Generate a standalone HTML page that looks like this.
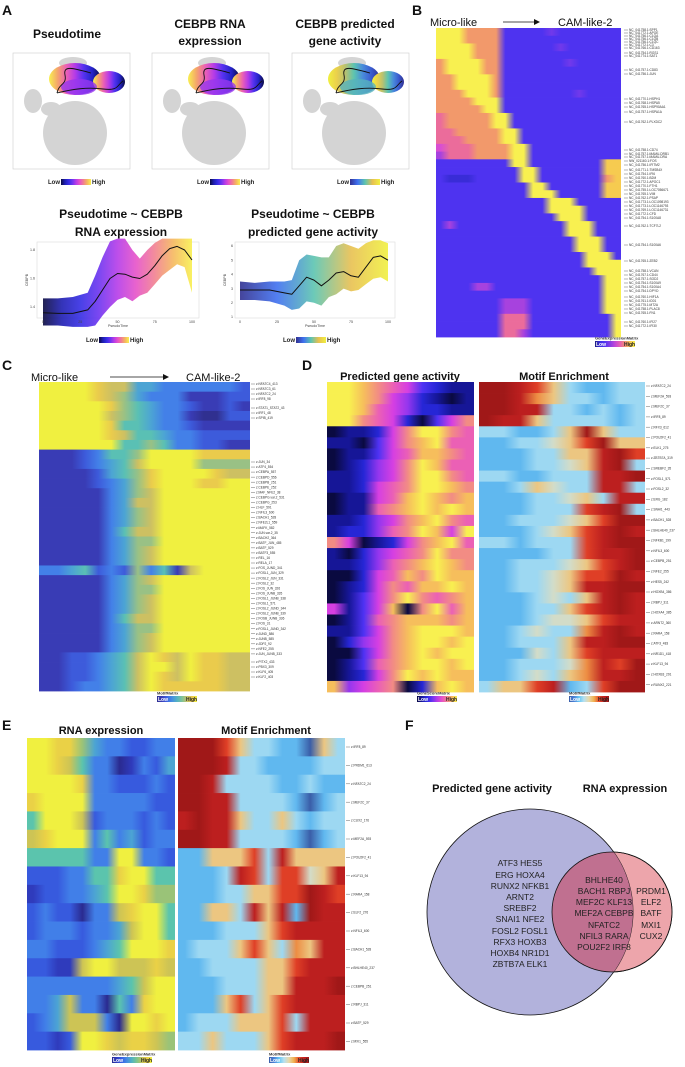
<!DOCTYPE html>
<html><head><meta charset="utf-8">
<style>
html,body{margin:0;padding:0;background:#fff;}
svg{display:block;font-family:"Liberation Sans",sans-serif;}
.t{font-weight:bold;fill:#111;}
.lab{font-size:3.2px;fill:#333;}
</style></head>
<body>
<svg id="fig" width="685" height="1067" viewBox="0 0 685 1067" xmlns="http://www.w3.org/2000/svg">
<defs id="g_defs"></defs>
<rect width="685" height="1067" fill="#fff"/>
<text x="2" y="15" font-size="14" class="t">A</text>
<text x="412" y="15" font-size="14" class="t">B</text>
<text x="2" y="370" font-size="14" class="t">C</text>
<text x="302" y="370" font-size="14" class="t">D</text>
<text x="2" y="730" font-size="14" class="t">E</text>
<text x="405" y="730" font-size="14" class="t">F</text>

<text x="67" y="38" font-size="12" class="t" text-anchor="middle">Pseudotime</text>
<text x="210" y="28" font-size="12" class="t" text-anchor="middle"><tspan x="210">CEBPB RNA</tspan><tspan x="210" dy="17">expression</tspan></text>
<text x="345" y="28" font-size="12" class="t" text-anchor="middle"><tspan x="345">CEBPB predicted</tspan><tspan x="345" dy="17">gene activity</tspan></text>
<text x="121" y="218" font-size="12" class="t" text-anchor="middle"><tspan x="121">Pseudotime ~ CEBPB</tspan><tspan x="121" dy="18">RNA expression</tspan></text>
<text x="313" y="218" font-size="12" class="t" text-anchor="middle"><tspan x="313">Pseudotime ~ CEBPB</tspan><tspan x="313" dy="18">predicted gene activity</tspan></text>
<g id="g_umaps"></g>
<g id="g_scatters"></g>

<text x="430" y="26" font-size="11" fill="#111">Micro-like</text>
<line x1="503" y1="22" x2="535" y2="22" stroke="#111" stroke-width="0.8"/><polygon points="534,19 540,22 534,25" fill="#111"/>
<text x="558" y="26" font-size="11" fill="#111">CAM-like-2</text>
<g id="g_heatB"></g><g id="g_labB"></g>

<text x="31" y="381" font-size="11" fill="#111">Micro-like</text>
<line x1="110" y1="377" x2="164" y2="377" stroke="#111" stroke-width="0.8"/><polygon points="163,374 169,377 163,380" fill="#111"/>
<text x="186" y="381" font-size="11" fill="#111">CAM-like-2</text>
<g id="g_heatC"></g><g id="g_labC"></g>

<text x="400" y="380" font-size="11" class="t" text-anchor="middle">Predicted gene activity</text>
<text x="564" y="380" font-size="11" class="t" text-anchor="middle">Motif Enrichment</text>
<g id="g_heatD1"></g><g id="g_heatD2"></g><g id="g_labD"></g>

<text x="101" y="734" font-size="11" class="t" text-anchor="middle">RNA expression</text>
<text x="266" y="734" font-size="11" class="t" text-anchor="middle">Motif Enrichment</text>
<g id="g_heatE1"></g><g id="g_heatE2"></g><g id="g_labE"></g>
<g id="g_legends"></g>

<g>
<text x="492" y="792" font-size="11" class="t" text-anchor="middle">Predicted gene activity</text>
<text x="625" y="792" font-size="11" class="t" text-anchor="middle">RNA expression</text>
<circle cx="612" cy="912" r="60" fill="#eda5ab" stroke="#111" stroke-width="0.8"/>
<circle cx="530" cy="912" r="103" fill="#b2b2dc" stroke="#111" stroke-width="0.8"/>
<clipPath id="clipBig"><circle cx="530" cy="912" r="103"/></clipPath>
<circle cx="612" cy="912" r="60" fill="#c07090" clip-path="url(#clipBig)"/>
<circle cx="612" cy="912" r="60" fill="none" stroke="#111" stroke-width="0.8"/>
<g font-size="8.5" fill="#222" text-anchor="middle">
<text x="520" y="866">ATF3 HES5</text><text x="520" y="878">ERG HOXA4</text><text x="520" y="889">RUNX2 NFKB1</text><text x="520" y="900">ARNT2</text><text x="520" y="911">SREBF2</text><text x="520" y="922">SNAI1 NFE2</text><text x="520" y="934">FOSL2 FOSL1</text><text x="520" y="945">RFX3 HOXB3</text><text x="520" y="956">HOXB4 NR1D1</text><text x="520" y="967">ZBTB7A ELK1</text>
</g>
<g font-size="8.5" fill="#222" text-anchor="middle">
<text x="604" y="883">BHLHE40</text><text x="604" y="894">BACH1 RBPJ</text><text x="604" y="905">MEF2C KLF13</text><text x="604" y="916">MEF2A CEBPB</text><text x="604" y="928">NFATC2</text><text x="604" y="939">NFIL3 RARA</text><text x="604" y="950">POU2F2 IRF8</text>
</g>
<g font-size="8.5" fill="#222" text-anchor="middle">
<text x="651" y="894">PRDM1</text><text x="651" y="905">ELF2</text><text x="651" y="916">BATF</text><text x="651" y="928">MXI1</text><text x="651" y="939">CUX2</text>
</g>
</g>
</svg>
<script>
var NS="http://www.w3.org/2000/svg";
var dataB=["99977772222232222222","99977772222222222222","99997772222223222222","99997772222222222222","79999772222222322222","79999772222222222222","77999972222222222222","77999972222222222222","77799972222222232222","77779992222222222222","77777992222222222222","67777799222222222222","67777799222222222222","66777779922222222222","66677779922222222222","56667777992222222222","46667777992222222222","22222222992222222288","22222222299222222288","21112222299222222278","22222222229922222288","22222222229992222288","22222222222299922222","22222222222299992222","22222222222229992222","24222222222222999222","22222222222222999222","22222222222222299922","22222222222222299922","22222222222222229992","22222222222222229999","22222222222222222999","22222222222222222299","22224422222222222299","22222222222222222299","22222224442222222299","22222224442222222299","22222226662222222229","22222226662222222229","22222226642222222229"];
var dataC=["9999877443333332","9999876433311122","9999986543321121","9999976543310022","9999985543321111","9999987554332222","9999995565332211","1112355699998888","1112345799996666","1111245689999877","1111234689998899","1111134679999999","1111134779999999","1111134679999999","1111134679999999","1111135779999999","1111134669999999","1111134679999999","1111134679999999","3345232635179999","1111134679999999","1111134669999999","1111134679999999","1111134679999999","1111135779999999","1111134669999999","1111134679999999","1111134679999999","1122345798798877","1122345799798877","1122345798798877","1123345798888877"];
var dataD1=["9987653211","9987542101","9986542211","9976520357","0112579976","1103578966","0113568876","0124579866","1124579976","1125679987","0115689878","0116789898","1124578976","1224679859","7501257896","1024567977","1124678987","0025687988","0125768898","0135797678","5135807968","0136788878","1135789998","0245789989","0035789899","0136789989","0125798988","8456702898"];
var dataD2=["9987532233","9986533233","9988332323","9885333323","3322359533","2233457955","2223355897","2223345893","3322333889","2235433883","2223345388","2223337893","2233345799","2223457898","3323337899","2222337889","2233345789","2233457798","2233458899","2223435898","2223357898","2223445788","2234336898","2233358899","2224357888","2233346879","2234356889","3557823799"];
var dataE1=["998864332233","998753301324","999983322232","899993333322","599972333232","789993534233","555553399332","222335589955","122334599866","232203378995","233323347995","332223459998","221179977787","333333345799","334733053899","234777309989","221299878876"];
var dataE2=["999753322053","999833222233","998333322322","998833332023","898853353233","998833332023","225557385555","222387377458","222335577987","225538582988","222333578888","233357536588","223333557888","222333558889","222573578888","233355573888","335333578889"];
var namesD=["z:NFATC2_24","z:MEF2A_593","z:MEF2C_37","z:IRF8_89","z:RFX3_612","z:POU2F2_41","z:ELK1_275","z:ZBTB7A_319","z:SREBF2_35","z:FOSL1_571","z:FOSL2_32","z:ERG_182","z:SNAI1_443","z:BACH1_528","z:BHLHE40_237","z:NFKB1_199","z:NFIL3_600","z:CEBPB_251","z:NFE2_255","z:HES5_242","z:HOXB4_386","z:RBPJ_311","z:HOXA4_385","z:ARNT2_360","z:RARA_158","z:ATF3_483","z:NR1D1_418","z:KLF13_94","z:HOXB3_291","z:RUNX2_221"];
var namesE=["z:IRF8_89","z:PRDM1_613","z:NFATC2_24","z:MEF2C_37","z:CUX2_176","z:MEF2A_593","z:POU2F2_41","z:KLF13_94","z:RARA_158","z:ELF2_276","z:NFIL3_600","z:BACH1_528","z:BHLHE40_237","z:CEBPB_251","z:RBPJ_311","z:BATF_529","z:MXI1_555"];
var namesC=["z:NFATC4_413","z:NFATC3_61","z:NFATC2_24","z:IRF8_98","z:STAT1_STAT2_43","z:IRF1_48","z:SPIB_419","z:JUN_34","z:ATF4_554","z:CEBPA_557","z:CEBPD_556","z:CEBPB_251","z:CEBPE_252","z:MAF_NFE2_38","z:CEBPG.var.2_531","z:CEBPG_253","z:HLF_591","z:NFIL3_600","z:BACH1_528","z:NFE2L1_559","z:MAFK_582","z:JUN.var.2_35","z:BACH2_364","z:BATF_JUN_485","z:BATF_529","z:BATF3_555","z:REL_16","z:RELA_17","z:FOS_JUND_341","z:FOSL1_JUN_329","z:FOSL2_JUN_331","z:FOSL2_32","z:FOS_JUN_326","z:FOS_JUNB_335","z:FOSL1_JUNB_338","z:FOSL1_571","z:FOSL2_JUND_344","z:FOSL2_JUNB_339","z:FOSB_JUNB_336","z:FOS_31","z:FOSL1_JUND_342","z:JUND_586","z:JUNB_585","z:JDP2_92","z:NFE2_255","z:JUN_JUNB_333","z:PITX2_433","z:PBX3_309","z:KLF6_405","z:KLF2_403"];
var namesB=["NC_041758.1:SPP1","NC_041772.1:APOE","NC_041756.1:C1QA","NC_041756.1:C1QB","NC_041756.1:C1QC","NC_041772.1:C3","NC_041766.1:CD163","NC_041754.1:RGS1","NC_041774.1:SAT1","NC_041757.1:CD83","NC_041756.1:JUN","NC_041770.1:HSPH1","NC_041768.1:HSPA5","NC_041765.1:HSP90AA1","NC_041757.1:HSPA1A","NC_041762.1:PLXDC2","NC_041758.1:CD74","NC_041757.1:MAMU-DRB1","NC_041757.1:MAMU-DRA","NW_021160.1:FOS","NC_041756.1:IFITM2","NC_041771.1:TMSB4X","NC_041754.1:IFI6","NC_041760.1:B2M","NC_041772.1:APOC1","NC_041770.1:FTH1","NC_041755.1:LOC7056671","NC_041765.1:VIM","NC_041762.1:PSAP","NC_041773.1:LOC1098193","NC_041773.1:LOC1146793","NC_041769.1:LOC1146731","NC_041772.1:CFD","NC_041754.1:S100A8","NC_041762.1:TCF7L2","NC_041754.1:S100A6","NC_041765.1:ZEB2","NC_041758.1:VCAN","NC_041767.1:CD44","NC_041757.1:SOD2","NC_041754.1:S100A9","NC_041754.1:S100A4","NC_041754.1:DPYD","NC_041760.1:HIF1A","NC_041761.1:ID01","NC_041775.1:MT2A","NC_041758.1:PLAC8","NC_041765.1:FN1","NC_041760.1:IFI27","NC_041772.1:IFI30"];
var namesBy=[30,33,36,39,42,45,48,53,56,70,74,99,103,107,112,122,150,154,157,161,165,170,174,178,182,186,190,194,198,202,206,210,214,218,226,245,261,271,275,279,283,287,291,297,301,305,309,313,322,326];
var ptX=[0,10,20,30,35,40,45,50,55,60,65,70,75,80,85,90,95,100];
var rnaFit=[1.36,1.355,1.355,1.38,1.44,1.52,1.6,1.635,1.63,1.61,1.6,1.63,1.69,1.76,1.81,1.825,1.8,1.73];
var rnaHi=[1.46,1.46,1.47,1.5,1.62,1.75,1.86,1.88,1.88,1.8,1.74,1.8,1.85,1.88,1.88,1.88,1.88,1.88];
var rnaLo=[1.27,1.27,1.26,1.26,1.27,1.34,1.4,1.45,1.47,1.44,1.48,1.5,1.56,1.62,1.66,1.7,1.68,1.5];
var actFit=[2.9,2.9,2.9,2.7,2.6,3.2,3.8,3.6,3.2,3.6,4.1,4.2,3.9,3.8,4.5,5.2,5.3,5.0];
var actHi=[3.5,3.4,3.5,3.5,3.6,5.0,5.4,5.3,5.2,5.2,6.0,6.2,6.0,5.8,6.2,6.4,6.4,6.2];
var actLo=[2.2,2.2,2.1,1.8,1.5,1.6,2.1,2.0,1.8,2.4,2.6,3.0,2.8,2.9,3.3,3.7,3.8,3.5];
var rnaTicks=[1.4,1.6,1.8], actTicks=[1,2,3,4,5,6], xTicks=[0,25,50,75,100];

function hexc(h){return [parseInt(h.substr(1,2),16),parseInt(h.substr(3,2),16),parseInt(h.substr(5,2),16)];}
function mk(stops){var s=stops.map(function(h){return hexc(h);});return function(v){v=Math.max(0,Math.min(1,v));var f=v*(s.length-1);var i=Math.min(s.length-2,Math.floor(f));var t=f-i;var c=[0,1,2].map(function(k){return Math.round(s[i][k]+(s[i+1][k]-s[i][k])*t);});return "rgb("+c[0]+","+c[1]+","+c[2]+")";};}
var cPlasma=mk(["#0a0a40","#2020c0","#3a30f0","#8a35f0","#e040e0","#f070a0","#f5b060","#f8f050"]);
var cPlasmaB=mk(["#202080","#4030f0","#5a35f0","#a040e0","#e050d0","#f07a80","#f5c050","#f8f050"]);
var cViridis=mk(["#303090","#3b40c0","#3f70f0","#4aa0d8","#5cc4b0","#b8c070","#e8c050","#f0f040"]);
var cMotif=mk(["#3a5ea8","#4a80d8","#66c8f5","#b8e0f0","#e8d8a8","#f0b050","#e84828","#c02020","#a01818"]);
var cAct=mk(["#0a0a40","#1a1ab0","#3030f5","#8a35f0","#e040e0","#f070a0","#f5b060","#f8f050"]);
var cRna=mk(["#2a2a90","#3040c8","#3c6ef0","#4aa0d8","#5dc8a8","#b8c060","#e8c848","#f0f040"]);
var cAlt=mk(["#303090","#3f70f0","#5cc4b0","#e8c050","#f0f040"]);

var gidN=0;
var defsEl=document.getElementById('g_defs');
function el(tag,attrs,parent){var e=document.createElementNS(NS,tag);for(var k in attrs){e.setAttribute(k,attrs[k]);}if(parent)parent.appendChild(e);return e;}
function gradient(cm,n,extra){var id='gr'+(gidN++);var lg=el('linearGradient',Object.assign({id:id},extra||{}),defsEl);for(var j=0;j<=n;j++){el('stop',{offset:(j/n*100).toFixed(2)+'%','stop-color':cm(j/n)},lg);}return id;}

function heat(gId,x,y,w,h,rows,cmap,name){
  var g=document.getElementById(gId);
  
  
  var rh=h/rows.length;
  rows.forEach(function(r,i){
    var id='hg'+(gidN++);
    var lg=el('linearGradient',{id:id},defsEl);
    var n=r.length;
    for(var j=0;j<n;j++){el('stop',{offset:((j+0.5)/n*100).toFixed(2)+'%','stop-color':cmap(parseInt(r.charAt(j),10)/9)},lg);}
    var re=el('rect',{x:x,y:(y+i*rh).toFixed(2),width:w,height:(rh+0.4).toFixed(2),fill:'url(#'+id+')'},g);
    
    
  });
}
function rowLabels(gId,x,ys,names,name){
  var g=document.getElementById(gId);
  
  
  names.forEach(function(t,i){
    el('line',{x1:x,x2:x+4,y1:ys[i],y2:ys[i],stroke:'#444','stroke-width':0.4},g);
    var tx=el('text',{x:x+5,y:ys[i]+1.1,'class':'lab'},g);tx.textContent=t;
    
    
  });
}
function legendBar(x,y,cmap,title,name,w){
  var g=document.getElementById('g_legends');
  var gg=el('g',{},g);
  
  
  var id=gradient(cmap,8);
  if(title){var t=el('text',{x:x,y:y-1.5,'font-size':4,'font-weight':'bold',fill:'#333'},gg);t.textContent=title;}
  el('rect',{x:x,y:y,width:w,height:6,fill:'url(#'+id+')'},gg);
  var lo=el('text',{x:x+1,y:y+5,'font-size':5,fill:'#fff','font-weight':'bold'},gg);lo.textContent='Low';
  var hi=el('text',{x:x+w-11,y:y+5,'font-size':5,fill:'#222','font-weight':'bold'},gg);hi.textContent='High';
}
function aLegend(x,y,cmap,name){
  var g=document.getElementById('g_legends');
  var gg=el('g',{},g);
  
  
  var id=gradient(cmap,8);
  el('rect',{x:x,y:y-5,width:30,height:6,fill:'url(#'+id+')'},gg);
  var lo=el('text',{x:x-1,y:y,'font-size':6,'text-anchor':'end','font-weight':'bold',fill:'#222'},gg);lo.textContent='Low';
  var hi=el('text',{x:x+31,y:y,'font-size':6,'font-weight':'bold',fill:'#222'},gg);hi.textContent='High';
}
function umap(x0,cm,name){
  var g=document.getElementById('g_umaps');
  var gg=el('g',{},g);
  
  
  var y0=53;
  var id=gradient(cm,6,{x1:'1',x2:'0'});
  el('rect',{x:x0,y:y0,width:117,height:116,fill:'#fff',stroke:'#ccc','stroke-width':0.6},gg);
  el('ellipse',{cx:x0+62,cy:y0+80,rx:32,ry:32,fill:'#d4d4d4'},gg);
  el('ellipse',{cx:x0+20,cy:y0+48,rx:9,ry:12,fill:'#d4d4d4'},gg);
  el('ellipse',{cx:x0+38,cy:y0+56,rx:10,ry:7,fill:'#d4d4d4'},gg);
  el('ellipse',{cx:x0+60,cy:y0+10,rx:14,ry:6,fill:'#d4d4d4'},gg);
  el('ellipse',{cx:x0+62,cy:y0+26,rx:26,ry:16,fill:'url(#'+id+')'},gg);
  el('ellipse',{cx:x0+96,cy:y0+29,rx:16,ry:11,fill:'url(#'+id+')'},gg);
  el('ellipse',{cx:x0+66,cy:y0+34,rx:18,ry:8,fill:cm(0.45),opacity:0.8},gg);
  var d='M'+(x0+44)+' '+(y0+40)+' C'+(x0+46)+' '+(y0+30)+','+(x0+54)+' '+(y0+32)+','+(x0+52)+' '+(y0+22)+' S'+(x0+60)+' '+(y0+15)+','+(x0+78)+' '+(y0+20)+
    ' M'+(x0+44)+' '+(y0+40)+' C'+(x0+60)+' '+(y0+36)+','+(x0+74)+' '+(y0+34)+','+(x0+90)+' '+(y0+36)+' S'+(x0+104)+' '+(y0+32)+','+(x0+110)+' '+(y0+28);
  var p=el('path',{d:d,fill:'none',stroke:'#111','stroke-width':0.9},gg);
  
  
}
function scatter(fx0,fx1,fy0,fy1,xa,xb,yLoV,yLoPx,yHiV,yHiPx,fit,hi,lo,ticks,cm,name){
  var g=document.getElementById('g_scatters');
  var gg=el('g',{},g);
  
  
  var X=function(v){return xa+(xb-xa)*v/100;}, Y=function(v){return yLoPx+(yHiPx-yLoPx)*(v-yLoV)/(yHiV-yLoV);};
  var id=gradient(cm,8,{gradientUnits:'userSpaceOnUse',x1:xa,x2:xb,y1:0,y2:0});
  var pts=[];
  for(var i=0;i<ptX.length;i++)pts.push(X(ptX[i]).toFixed(1)+' '+Y(hi[i]).toFixed(1));
  for(var i2=ptX.length-1;i2>=0;i2--)pts.push(X(ptX[i2]).toFixed(1)+' '+Y(lo[i2]).toFixed(1));
  var band='M'+pts.join(' L')+'Z';
  var lp=[];for(var k=0;k<ptX.length;k++)lp.push(X(ptX[k]).toFixed(1)+' '+Y(fit[k]).toFixed(1));
  el('rect',{x:fx0,y:fy0,width:fx1-fx0,height:fy1-fy0,fill:'#fff',stroke:'#ddd','stroke-width':0.6},gg);
  var b=el('path',{d:band,fill:'url(#'+id+')',opacity:0.9},gg);
  
  
  var l=el('path',{d:'M'+lp.join(' L'),fill:'none',stroke:'#111','stroke-width':1,'stroke-linejoin':'round'},gg);
  
  
  ticks.forEach(function(t){var e=el('text',{x:fx0-2,y:Y(t)+1.2,'font-size':3.6,fill:'#444','text-anchor':'end'},gg);e.textContent=t;});
  xTicks.forEach(function(t){var e=el('text',{x:X(t),y:fy1+5,'font-size':3.6,fill:'#444','text-anchor':'middle'},gg);e.textContent=t;});
  var xl=el('text',{x:(fx0+fx1)/2,y:fy1+9,'font-size':3.6,fill:'#444','text-anchor':'middle'},gg);xl.textContent='PseudoTime';
  var yl=el('text',{transform:'translate('+(fx0-9)+','+((fy0+fy1)/2)+') rotate(-90)','font-size':3.6,fill:'#444','text-anchor':'middle'},gg);yl.textContent='CEBPB';
}
function safe(f){try{f();}catch(e){console.error(e);}}
safe(function(){heat('g_heatB',436,28,185,309,dataB,cPlasmaB,'heatmap-b');});
safe(function(){rowLabels('g_labB',624,namesBy,namesB,'heatmap-b-labels');});
safe(function(){heat('g_heatC',39,382,211,309,dataC,cViridis,'heatmap-c');});
safe(function(){rowLabels('g_labC',251,namesC.map(function(_,i){return i<4?384+i*5:(i<7?408+(i-4)*5:(i<46?462+(i-7)*5.05:662+(i-46)*5));}),namesC,'heatmap-c-labels');});
safe(function(){heat('g_heatD1',327,382,147,310,dataD1,cAct,'heatmap-d-activity');});
safe(function(){heat('g_heatD2',479,382,166,310,dataD2,cMotif,'heatmap-d-motif');});
safe(function(){rowLabels('g_labD',646,namesD.map(function(_,i){return 386+i*10.3;}),namesD,'heatmap-d-labels');});
safe(function(){heat('g_heatE1',27,738,148,312,dataE1,cRna,'heatmap-e-rna');});
safe(function(){heat('g_heatE2',178,738,167,312,dataE2,cMotif,'heatmap-e-motif');});
safe(function(){rowLabels('g_labE',346,namesE.map(function(_,i){return 747+i*18.4;}),namesE,'heatmap-e-labels');});
safe(function(){
legendBar(595,341,cPlasmaB,'GeneExpressionMatrix','legend-b',40);
legendBar(157,696,cViridis,'MotifMatrix','legend-c',40);
legendBar(417,696,cAct,'GeneScoreMatrix','legend-d-activity',40);
legendBar(569,696,cMotif,'MotifMatrix','legend-d-motif',40);
legendBar(112,1057,cRna,'GeneExpressionMatrix','legend-e-rna',40);
legendBar(269,1057,cMotif,'MotifMatrix','legend-e-motif',40);
aLegend(61,184,cPlasma,'legend-a-pseudotime');
aLegend(210,184,cPlasma,'legend-a-rna');
aLegend(350,184,cAlt,'legend-a-activity');
aLegend(99,342,cPlasma,'legend-a-scatter-rna');
aLegend(296,342,cAlt,'legend-a-scatter-activity');
});
safe(function(){umap(13,cPlasma,'umap-pseudotime');umap(152,cPlasma,'umap-rna');umap(292,cAlt,'umap-activity');});
safe(function(){scatter(37,199,242,318,43,192,1.4,307,1.8,250,rnaFit,rnaHi,rnaLo,rnaTicks,cPlasma,'scatter-rna');});
safe(function(){scatter(235,395,242,318,240,388,1,317,6,246,actFit,actHi,actLo,actTicks,cAlt,'scatter-activity');});
</script>
</body></html>
